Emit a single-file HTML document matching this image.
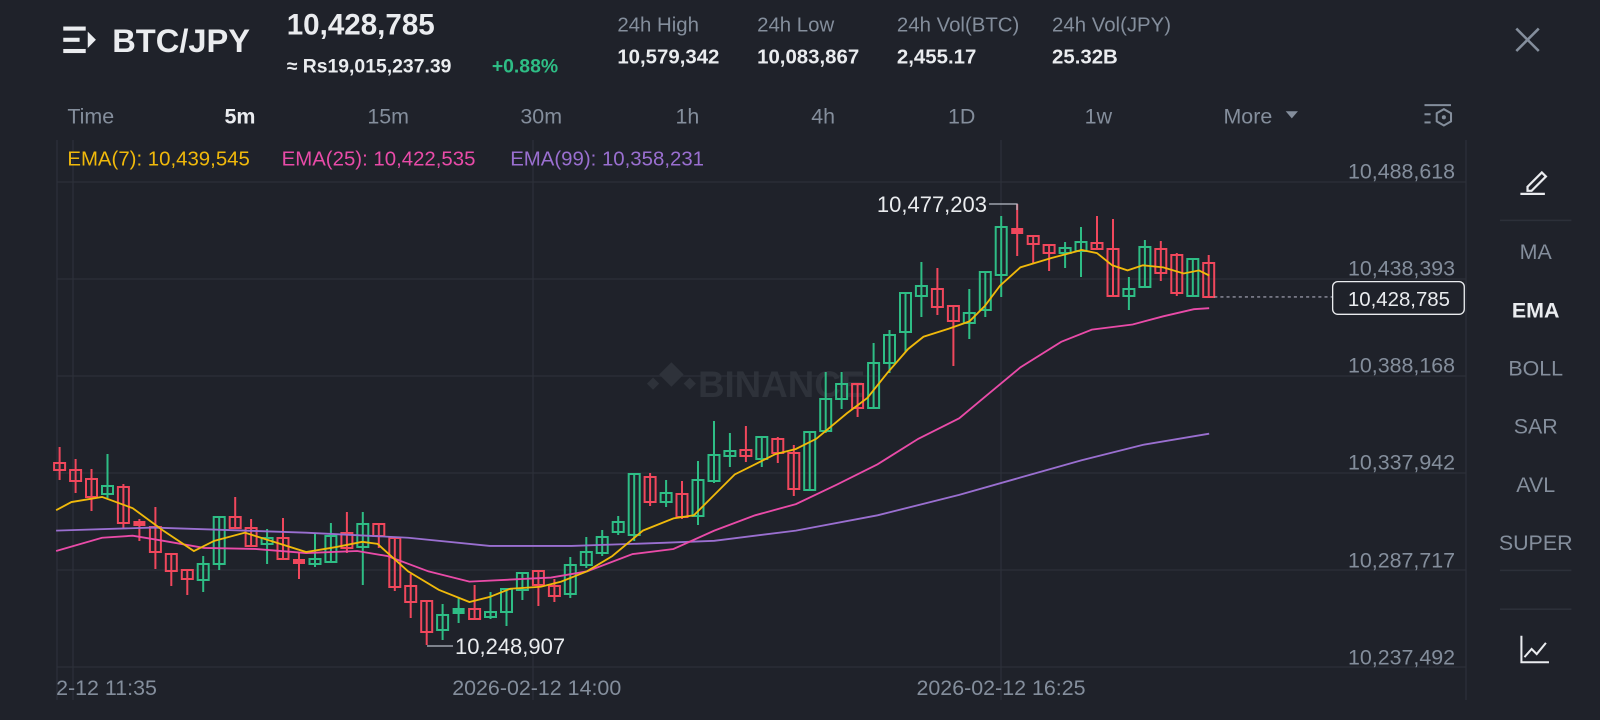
<!DOCTYPE html>
<html><head><meta charset="utf-8"><style>
html,body{margin:0;padding:0;background:#1f222a;}
svg{display:block;}
text{font-family:"Liberation Sans",sans-serif;}
</style></head><body>
<svg width="1600" height="720" viewBox="0 0 1600 720" xmlns="http://www.w3.org/2000/svg">
<rect width="1600" height="720" fill="#1f222a"/>
<g stroke="#2c3039" stroke-width="1.3">
<line x1="57" y1="182" x2="1466" y2="182"/><line x1="57" y1="279" x2="1466" y2="279"/>
<line x1="57" y1="376" x2="1466" y2="376"/><line x1="57" y1="473" x2="1466" y2="473"/>
<line x1="57" y1="570" x2="1466" y2="570"/><line x1="57" y1="667" x2="1466" y2="667"/>
<line x1="57" y1="140" x2="57" y2="700"/><line x1="73" y1="140" x2="73" y2="700"/>
<line x1="533" y1="140" x2="533" y2="700"/><line x1="1001" y1="140" x2="1001" y2="700"/>
<line x1="1466" y1="140" x2="1466" y2="700"/>
</g>
<g transform="scale(1.0204)">
<g fill="#2e323a"><path d="M646 367 l12 -12 12 12 -12 12z M634 376 l6 -6 6 6 -6 6z M670 376 l6 -6 6 6 -6 6z"/>
<text x="684" y="389" font-size="36" font-weight="bold">BINANCE</text></g>
<g fill="#eaecef"><rect x="62" y="26" width="22" height="4"/><rect x="62" y="37" width="16" height="4"/><rect x="62" y="48" width="22" height="4"/><path d="M86 31 l8 8 -8 8z"/></g>
<text x="110" y="51" font-size="32" font-weight="bold" fill="#eaecef">BTC/JPY</text>
<text x="281" y="34" font-size="29" font-weight="bold" fill="#eaecef">10,428,785</text>
<text x="281" y="71" font-size="19" font-weight="bold" fill="#eaecef">≈ Rs19,015,237.39</text>
<text x="482" y="71" font-size="19" font-weight="bold" fill="#2ebd85">+0.88%</text>
<g font-size="20" fill="#848e9c"><text x="605" y="31">24h High</text><text x="742" y="31">24h Low</text><text x="879" y="31">24h Vol(BTC)</text><text x="1031" y="31">24h Vol(JPY)</text></g>
<g font-size="20" font-weight="bold" fill="#eaecef"><text x="605" y="62">10,579,342</text><text x="742" y="62">10,083,867</text><text x="879" y="62">2,455.17</text><text x="1031" y="62">25.32B</text></g>
<path d="M1486 28 l22 22 M1508 28 l-22 22" stroke="#848e9c" stroke-width="2.5"/>
<g font-size="21" fill="#848e9c"><text x="66" y="121">Time</text><text x="360" y="121">15m</text><text x="510" y="121">30m</text><text x="662" y="121">1h</text><text x="795" y="121">4h</text><text x="929" y="121">1D</text><text x="1063" y="121">1w</text><text x="1199" y="121">More</text></g>
<text x="220" y="121" font-size="21" font-weight="bold" fill="#eaecef">5m</text>
<path d="M1260 109 h12 l-6 7z" fill="#848e9c"/>
<g stroke="#848e9c" stroke-width="2" fill="none"><line x1="1396" y1="103" x2="1422" y2="103"/><line x1="1396" y1="112" x2="1402" y2="112"/><line x1="1396" y1="120" x2="1402" y2="120"/><path d="M1415 107 l7 4 v8 l-7 4 -7 -4 v-8z"/></g><circle cx="1415" cy="115" r="2" fill="#848e9c"/>
<g font-size="20"><text x="66" y="162" fill="#f0b90b">EMA(7): 10,439,545</text><text x="276" y="162" fill="#e94ba8">EMA(25): 10,422,535</text><text x="500" y="162" fill="#9a6fd0">EMA(99): 10,358,231</text></g>
<g font-size="21" fill="#848e9c" text-anchor="end"><text x="1426" y="175">10,488,618</text><text x="1426" y="270">10,438,393</text><text x="1426" y="365">10,388,168</text><text x="1426" y="460">10,337,942</text><text x="1426" y="556">10,287,717</text><text x="1426" y="651">10,237,492</text></g>
<g font-size="21" fill="#848e9c"><text x="55" y="681">2-12 11:35</text><text x="526" y="681" text-anchor="middle">2026-02-12 14:00</text><text x="981" y="681" text-anchor="middle">2026-02-12 16:25</text></g>
<g stroke="#eaecef" stroke-width="2.2" fill="none"><path d="M1497 183 l14 -14 4 4 -14 14 h-4z"/><line x1="1490" y1="190" x2="1514" y2="190"/></g>
<g stroke="#2c3039" stroke-width="1.5"><line x1="1470" y1="216" x2="1540" y2="216"/><line x1="1470" y1="559" x2="1540" y2="559"/><line x1="1470" y1="597" x2="1540" y2="597"/></g>
<g font-size="21" fill="#848e9c" text-anchor="middle"><text x="1505" y="254">MA</text><text x="1505" y="368">BOLL</text><text x="1505" y="425">SAR</text><text x="1505" y="482">AVL</text><text x="1505" y="539">SUPER</text></g>
<text x="1505" y="311" font-size="21" font-weight="bold" fill="#eaecef" text-anchor="middle">EMA</text>
<g stroke="#eaecef" stroke-width="2" fill="none"><path d="M1491 623 v26 h27"/><path d="M1494 644 l7 -8 5 5 9 -11"/></g>
</g>
<g stroke="#f0475c" stroke-width="2" fill="none">
<path d="M59.6 447V480 M75.6 459V493 M91.5 469V511 M123.4 484V529 M139.4 519V541 M155.4 507V569 M171.3 554V586 M187.3 570V595 M235.2 497V528 M251.1 519V547 M283 518V559 M299 552V579 M346.9 512V553 M378.8 523V548 M394.8 538V591 M410.7 574V618 M426.7 601V645 M474.6 585V619 M538.4 571V606 M554.4 579V602 M650.1 473V506 M682 481V519 M745.9 426V462 M777.8 437V463 M793.8 445V496 M857.6 384V417 M937.4 268V315 M953.4 306V366 M1017.2 204V256 M1033.2 236V263 M1049.1 245V271 M1097 216V249 M1113 219V296 M1160.8 241V281 M1176.8 253V296 M1208.7 255V297"/>
<rect x="54.1" y="463" width="11" height="7"/><rect x="70.1" y="470" width="11" height="11"/><rect x="86" y="479" width="11" height="18"/><rect x="117.9" y="487" width="11" height="36"/><rect x="149.9" y="527" width="11" height="25"/><rect x="165.8" y="554" width="11" height="17"/><rect x="181.8" y="570" width="11" height="9"/><rect x="229.7" y="517" width="11" height="11"/><rect x="245.6" y="528" width="11" height="18"/><rect x="277.5" y="538" width="11" height="21"/><rect x="341.4" y="533" width="11" height="15"/><rect x="373.3" y="524" width="11" height="12"/><rect x="389.3" y="538" width="11" height="49"/><rect x="405.2" y="586" width="11" height="16"/><rect x="421.2" y="601" width="11" height="31"/><rect x="469.1" y="609" width="11" height="10"/><rect x="532.9" y="571" width="11" height="14"/><rect x="548.9" y="586" width="11" height="10"/><rect x="644.6" y="477" width="11" height="25"/><rect x="676.5" y="494" width="11" height="23"/><rect x="740.4" y="450" width="11" height="6"/><rect x="772.3" y="439" width="11" height="14"/><rect x="788.3" y="453" width="11" height="36"/><rect x="852.1" y="384" width="11" height="24"/><rect x="931.9" y="289" width="11" height="18"/><rect x="947.9" y="306" width="11" height="15"/><rect x="1027.7" y="236" width="11" height="8"/><rect x="1043.6" y="245" width="11" height="8"/><rect x="1091.5" y="243" width="11" height="6"/><rect x="1107.5" y="249" width="11" height="47"/><rect x="1155.3" y="249" width="11" height="24"/><rect x="1171.3" y="255" width="11" height="38"/><rect x="1203.2" y="263" width="11" height="34"/>
</g>
<g fill="#f0475c"><rect x="133.4" y="521" width="12" height="5"/><rect x="293" y="559" width="12" height="5"/><rect x="1011.2" y="228" width="12" height="6"/></g>
<g stroke="#2ebd85" stroke-width="2" fill="none">
<path d="M107.5 454V498 M203.2 556V592 M219.2 517V570 M267.1 529V564 M315 534V567 M330.9 523V562 M362.8 512V585 M442.6 604V640 M458.6 597V623 M490.5 592V619 M506.5 589V626 M522.4 572V600 M570.3 557V598 M586.3 537V568 M602.2 530V556 M618.2 516V535 M634.2 473V541 M666.1 480V507 M698 461V525 M714 421V483 M729.9 433V467 M761.8 437V467 M809.7 432V490 M825.7 372V433 M841.6 372V409 M873.6 343V408 M889.5 330V373 M905.5 293V352 M921.4 262V317 M969.3 289V339 M985.3 272V317 M1001.2 216V297 M1065.1 242V268 M1081 227V277 M1128.9 277V310 M1144.9 240V287 M1192.8 259V297"/>
<rect x="102" y="486" width="11" height="8"/><rect x="197.7" y="564" width="11" height="16"/><rect x="213.7" y="517" width="11" height="47"/><rect x="261.6" y="538" width="11" height="6"/><rect x="309.5" y="559" width="11" height="5"/><rect x="325.4" y="536" width="11" height="26"/><rect x="357.3" y="524" width="11" height="23"/><rect x="437.1" y="615" width="11" height="15"/><rect x="485" y="612" width="11" height="5"/><rect x="501" y="589" width="11" height="23"/><rect x="516.9" y="573" width="11" height="17"/><rect x="564.8" y="565" width="11" height="29"/><rect x="580.8" y="552" width="11" height="13"/><rect x="596.7" y="537" width="11" height="16"/><rect x="612.7" y="522" width="11" height="10"/><rect x="628.7" y="474" width="11" height="61"/><rect x="660.6" y="493" width="11" height="9"/><rect x="692.5" y="480" width="11" height="36"/><rect x="708.5" y="455" width="11" height="26"/><rect x="724.4" y="451" width="11" height="5"/><rect x="756.3" y="437" width="11" height="22"/><rect x="804.2" y="432" width="11" height="58"/><rect x="820.2" y="399" width="11" height="32"/><rect x="836.1" y="384" width="11" height="15"/><rect x="868.1" y="363" width="11" height="45"/><rect x="884" y="335" width="11" height="28"/><rect x="900" y="293" width="11" height="39"/><rect x="915.9" y="286" width="11" height="10"/><rect x="963.8" y="313" width="11" height="10"/><rect x="979.8" y="272" width="11" height="38"/><rect x="995.7" y="227" width="11" height="48"/><rect x="1059.6" y="248" width="11" height="5"/><rect x="1075.5" y="242" width="11" height="9"/><rect x="1123.4" y="289" width="11" height="7"/><rect x="1139.4" y="247" width="11" height="40"/><rect x="1187.3" y="259" width="11" height="37"/>
</g>
<g fill="#2ebd85"><rect x="452.6" y="608" width="12" height="6"/></g>
<g transform="scale(1.0204)">
<polyline fill="none" stroke="#9a6fd0" stroke-width="1.8" points="55,520 150,517 300,522 400,527 480,535 560,535 650,532 700,530 780,520 860,505 940,485 1000,468 1060,451 1120,436 1185,425"/>
<polyline fill="none" stroke="#e94ba8" stroke-width="1.8" points="55,540 100,527 130,525 160,530 200,537 250,538 300,542 350,540 380,545 420,560 460,570 500,568 540,566 575,560 620,543 660,538 700,520 740,505 780,494 820,475 860,455 900,430 940,410 970,385 1000,360 1040,335 1070,323 1110,318 1140,310 1170,303 1185,302"/>
<polyline fill="none" stroke="#f0b90b" stroke-width="1.8" points="55,500 70,492 100,487 130,498 160,520 190,540 210,530 240,522 265,530 300,541 330,536 355,531 370,533 400,560 430,578 460,590 480,585 500,577 530,575 550,570 575,560 600,545 630,520 660,508 680,505 700,485 720,465 740,455 760,445 780,440 800,430 830,405 850,390 870,365 890,342 905,330 930,322 950,315 965,300 980,280 1000,262 1030,253 1060,245 1075,248 1090,260 1105,265 1120,260 1140,262 1160,268 1175,265 1185,270"/>
<line x1="1190" y1="291" x2="1306" y2="291" stroke="#aab" stroke-width="1" stroke-dasharray="3,3"/>
<rect x="1306" y="276" width="129" height="32" rx="5" fill="#1f222a" stroke="#eaecef" stroke-width="1.3"/>
<text x="1371" y="300" font-size="20" fill="#eaecef" text-anchor="middle">10,428,785</text>
</g>
<text x="987" y="212" font-size="22" fill="#eaecef" text-anchor="end">10,477,203</text>
<path d="M989 204 H1017 V210" stroke="#b7bdc6" fill="none" stroke-width="1.3"/>
<text x="455" y="654" font-size="22" fill="#eaecef">10,248,907</text>
<path d="M427 646 H453" stroke="#b7bdc6" fill="none" stroke-width="1.3"/>
</svg>
</body></html>
